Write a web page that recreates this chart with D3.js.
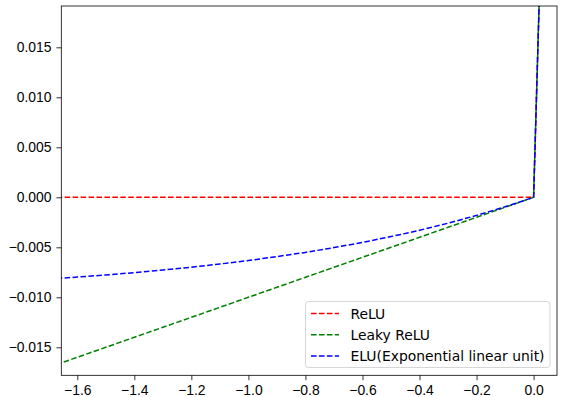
<!DOCTYPE html>
<html>
<head>
<meta charset="utf-8">
<script src="https://cdn.jsdelivr.net/npm/d3@7"></script>
<style>
  html, body { margin: 0; padding: 0; background: #fff; }
  svg { display: block; font-family: "DejaVu Sans", sans-serif; }
  .tick text { font-size: 13.9px; fill: #000; }
  .legend text { font-size: 13.9px; fill: #000; }
</style>
</head>
<body>
<div id="chart"></div>
<script>
/* ===== Data ===== */
const xs = [-1.7, -1.6, -1.5, -1.4, -1.3, -1.2, -1.1, -1.0, -0.9, -0.8, -0.7, -0.6, -0.5, -0.4, -0.3, -0.2, -0.1, 0.0, 0.1];
const relu = [0, 0, 0, 0, 0, 0, 0, 0, 0, 0, 0, 0, 0, 0, 0, 0, 0, 0, 0.1];
const leaky = [-0.017, -0.016, -0.015, -0.014, -0.013, -0.012, -0.011, -0.010, -0.009, -0.008, -0.007, -0.006, -0.005, -0.004, -0.003, -0.002, -0.001, 0, 0.1];
const elu = [-0.00817, -0.00798, -0.00777, -0.00753, -0.00727, -0.00699, -0.00667, -0.00632, -0.00593, -0.00551, -0.00503, -0.00451, -0.00393, -0.0033, -0.00259, -0.00181, -0.00095, 0, 0.1];

const seriesNames = ["ReLU", "Leaky ReLU", "ELU(Exponential linear unit)"];
const seriesColors = ["red", "green", "blue"];
const seriesValues = [relu, leaky, elu];

const xTicks = [-1.6, -1.4, -1.2, -1.0, -0.8, -0.6, -0.4, -0.2, 0.0];
const yTicks = [-0.015, -0.010, -0.005, 0.000, 0.005, 0.010, 0.015];

/* ===== Layout ===== */
const W = 561, H = 397;
const m = { left: 61.3, right: 4, top: 6, bottom: 21.7 };

const svg = d3.select("#chart").append("svg")
  .attr("width", W).attr("height", H);

const x = d3.scaleLinear().domain([-1.656, 0.082]).range([m.left, W - m.right]);
const y = d3.scaleLinear().domain([-0.0178, 0.01913]).range([H - m.bottom, m.top]);

svg.append("clipPath").attr("id", "plotClip")
  .append("rect")
  .attr("x", m.left).attr("y", m.top)
  .attr("width", W - m.left - m.right).attr("height", H - m.top - m.bottom);

/* ===== Lines ===== */
const line = d3.line().x(d => x(d[0])).y(d => y(d[1]));
const plot = svg.append("g").attr("clip-path", "url(#plotClip)");

seriesValues.forEach((vals, i) => {
  plot.append("path")
    .datum(xs.map((v, j) => [v, vals[j]]))
    .attr("d", line)
    .attr("fill", "none")
    .attr("stroke", seriesColors[i])
    .attr("stroke-width", 1.5)
    .attr("stroke-dasharray", "5.55,2.4");
});

/* ===== Axes ===== */
const xAxis = svg.append("g")
  .attr("transform", `translate(0,${H - m.bottom})`)
  .call(d3.axisBottom(x).tickValues(xTicks).tickFormat(d3.format(".1f"))
    .tickSize(4.9).tickPadding(4.9));

const yAxis = svg.append("g")
  .attr("transform", `translate(${m.left},0)`)
  .call(d3.axisLeft(y).tickValues(yTicks).tickFormat(d3.format(".3f"))
    .tickSize(4.9).tickPadding(4.9));

[xAxis, yAxis].forEach(a => {
  a.select(".domain").remove();
  a.selectAll(".tick line").attr("stroke", "#000").attr("stroke-width", 0.8);
  a.selectAll(".tick text").attr("font-family", null).attr("font-size", null);
});

svg.append("rect")
  .attr("x", m.left).attr("y", m.top)
  .attr("width", W - m.left - m.right).attr("height", H - m.top - m.bottom)
  .attr("fill", "none").attr("stroke", "#000").attr("stroke-width", 0.8);

/* ===== Legend ===== */
const lg = svg.append("g").attr("class", "legend");
lg.append("rect")
  .attr("x", 305.5).attr("y", 301.5)
  .attr("width", 244.5).attr("height", 66)
  .attr("rx", 2.8).attr("ry", 2.8)
  .attr("fill", "#fff").attr("fill-opacity", 0.8)
  .attr("stroke", "#ccc").attr("stroke-width", 0.8);

seriesNames.forEach((name, i) => {
  const ry = 313.5 + i * 21.2;
  lg.append("line")
    .attr("x1", 311).attr("x2", 339)
    .attr("y1", ry).attr("y2", ry)
    .attr("stroke", seriesColors[i])
    .attr("stroke-width", 1.5)
    .attr("stroke-dasharray", "5.55,2.4");
  lg.append("text")
    .attr("x", 350.5).attr("y", ry)
    .attr("dy", "0.36em")
    .text(name);
});
</script>
</body>
</html>
